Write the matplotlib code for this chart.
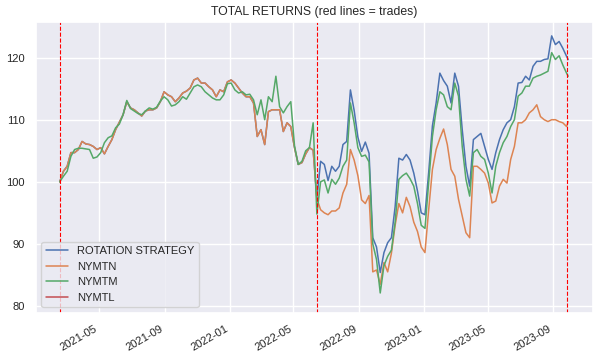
"""
Total returns of the rotation strategy vs the NYMT preferreds.
Weekly values read off the reference chart; red dashed lines mark the trades.
"""

import numpy as np
import pandas as pd
import matplotlib
matplotlib.use('Agg')
import matplotlib.pyplot as plt
import matplotlib.dates as mdates
import seaborn as sns

# weekly sample dates (Tuesdays) plus the last close
dates = list(pd.date_range('2021-02-16', '2023-09-26', freq='7D')) + [pd.Timestamp('2023-09-29')]

trade_dates = ['2021-02-16', '2022-06-15', '2023-09-26']

nymtn = [
    100.0, 101.7, 102.5, 104.7, 104.7, 105.2, 106.5, 106.1, 106.0, 105.7,
    105.2, 105.5, 104.5, 105.7, 106.8, 108.4, 109.6, 110.8, 112.9, 111.9,
    111.6, 111.1, 110.6, 111.4, 111.6, 111.6, 111.9, 112.9, 114.5, 114.0,
    113.7, 112.9, 113.5, 114.3, 114.6, 115.1, 116.4, 116.7, 115.9, 115.9,
    115.3, 114.8, 113.7, 114.8, 114.5, 116.1, 116.4, 115.9, 115.1, 114.3,
    113.7, 113.7, 112.7, 107.3, 108.4, 106.0, 111.3, 111.6, 111.6, 111.6,
    108.1, 109.5, 108.9, 105.5, 102.8, 103.1, 104.5, 105.5, 105.1, 97.3,
    95.5, 95.0, 94.7, 95.3, 95.3, 95.8, 98.2, 99.6, 105.2, 103.5,
    101.0, 97.1, 96.5, 97.8, 85.5, 85.8, 83.5, 87.0, 85.5, 88.5,
    93.0, 96.5, 95.0, 97.5, 96.0, 93.5, 92.0, 89.5, 88.6, 95.5,
    102.0, 105.2, 107.0, 108.5, 106.0, 102.0, 100.9, 97.2, 94.5, 91.8,
    91.0, 102.5, 102.5, 102.0, 101.4, 99.8, 96.6, 96.9, 99.3, 100.4,
    99.8, 103.6, 105.7, 109.5, 109.5, 110.0, 111.1, 111.6, 112.4, 110.5,
    110.0, 109.7, 110.0, 110.0, 109.7, 109.5, 108.9, 109.7,
]

nymtm = [
    100.0, 100.9, 101.7, 104.1, 105.2, 105.4, 105.4, 105.3, 105.2, 103.8,
    104.0, 104.7, 106.3, 107.1, 107.4, 108.7, 109.3, 110.8, 113.1, 111.8,
    111.4, 111.0, 110.8, 111.4, 111.9, 111.7, 112.0, 113.0, 113.7, 113.2,
    112.2, 112.4, 112.9, 113.7, 113.3, 114.3, 115.3, 115.6, 115.3, 114.5,
    114.0, 113.5, 113.2, 113.2, 114.0, 115.8, 115.9, 114.8, 114.3, 114.5,
    114.0, 114.1, 113.2, 110.8, 113.2, 110.0, 113.7, 112.9, 117.0, 112.1,
    111.1, 112.1, 112.9, 105.8, 102.8, 103.3, 105.0, 105.5, 109.5, 94.8,
    100.0, 100.3, 98.2, 100.4, 99.6, 100.6, 102.5, 103.5, 112.7, 109.5,
    105.5, 104.1, 104.3, 103.2, 90.0, 87.5, 82.1, 86.5, 88.0, 89.0,
    93.5, 100.4, 101.0, 101.4, 100.5, 99.3, 96.5, 93.0, 92.5, 100.0,
    107.3, 111.6, 114.5, 114.0, 112.1, 111.6, 115.9, 113.8, 105.7, 100.4,
    97.7, 104.7, 105.2, 104.1, 103.6, 101.4, 98.2, 102.5, 104.7, 106.3,
    107.3, 108.9, 110.0, 113.8, 114.3, 115.4, 115.4, 116.7, 117.0, 117.2,
    117.5, 117.8, 120.8, 119.7, 120.3, 118.8, 117.5, 117.0,
]

# strategy held NYMTN until the 2022-06 trade (hidden under the orange line),
# these are the values after the switch
rotation_after = [
    97.3, 103.3, 102.8, 100.2, 102.5, 101.7, 102.5, 106.0, 106.5, 114.8,
    111.5, 107.2, 104.9, 106.4, 104.6, 91.0, 89.5, 85.4, 88.6, 90.2,
    91.0, 96.0, 103.8, 103.5, 104.4, 103.5, 101.4, 98.5, 95.0, 94.7,
    101.5, 109.0, 112.7, 117.5, 116.3, 115.4, 112.7, 117.5, 115.4, 108.4,
    102.5, 99.3, 106.8, 107.3, 107.8, 105.7, 103.6, 102.0, 104.7, 106.8,
    108.4, 109.5, 110.0, 112.1, 115.9, 116.0, 117.0, 116.4, 118.6, 119.4,
    119.4, 119.7, 119.8, 123.5, 122.1, 122.6, 121.5, 120.2, 119.7,
]
rotation = nymtn[:len(dates) - len(rotation_after)] + rotation_after


def main():
    sns.set_theme(style='darkgrid')
    plt.rcParams['font.family'] = ['Liberation Sans', 'DejaVu Sans']

    fig, ax = plt.subplots(figsize=(6.06, 3.6), dpi=100)
    fig.subplots_adjust(left=0.059, right=0.978, top=0.940, bottom=0.131)

    lw = 1.1
    ax.plot(dates, rotation, color='#4C72B0', lw=lw, label='ROTATION STRATEGY')
    ax.plot(dates, nymtn, color='#DD8452', lw=lw, label='NYMTN')
    ax.plot(dates, nymtm, color='#55A868', lw=lw, label='NYMTM')
    ax.plot([], [], color='#C44E52', lw=lw, label='NYMTL')  # no visible data

    for d in trade_dates:
        ax.axvline(pd.Timestamp(d), color='red', linestyle='--', lw=0.8)

    ax.set_xlim(pd.Timestamp('2021-01-02'), pd.Timestamp('2023-11-14'))
    ax.set_ylim(78.9, 125.8)
    ax.set_yticks([80, 90, 100, 110, 120])

    ax.xaxis.set_major_locator(mdates.MonthLocator(bymonth=[1, 5, 9]))
    ax.xaxis.set_major_formatter(mdates.DateFormatter('%Y-%m'))
    plt.setp(ax.get_xticklabels(), rotation=30, ha='right')
    ax.tick_params(labelsize=8, pad=2)

    ax.set_title('TOTAL RETURNS (red lines = trades)', fontsize=8.8, pad=5)
    ax.legend(loc='lower left', fontsize=8)

    fig.savefig('out.png', dpi=100)


if __name__ == '__main__':
    main()
